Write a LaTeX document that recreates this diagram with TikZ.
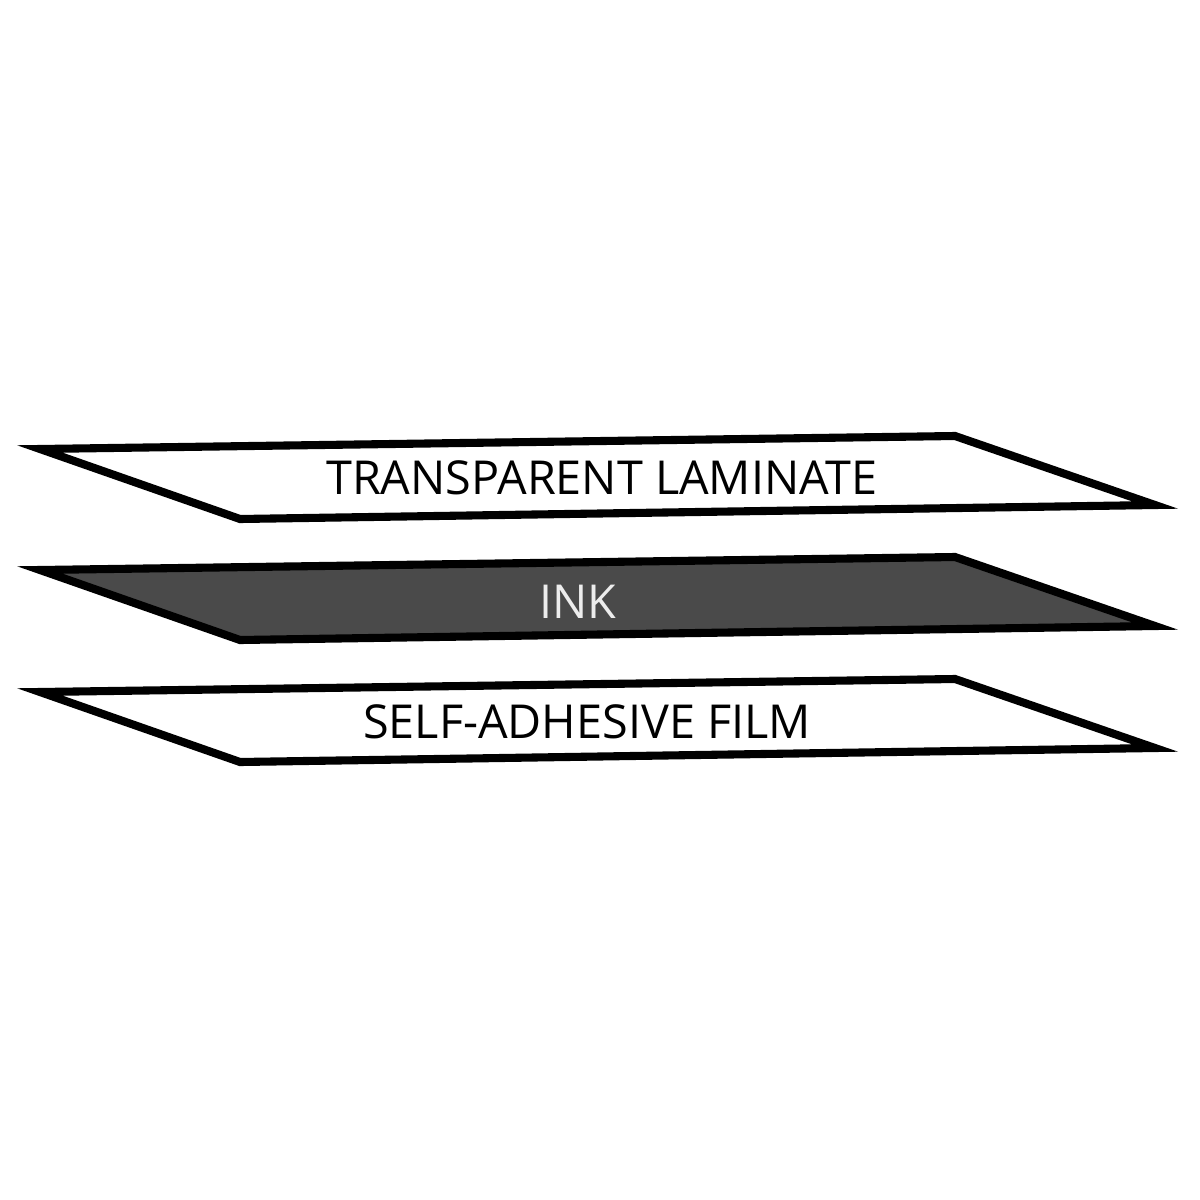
\documentclass[tikz,border=0pt]{standalone}
\usepackage{fontspec}
\setmainfont{Open Sans}
\definecolor{inkgray}{HTML}{4A4A4A}
\tikzset{
  layer/.style={line width=2.3pt,line join=miter,draw=black},
  label/.style={font=\fontsize{13.3}{14}\selectfont,inner sep=0pt},
}
\begin{document}
\begin{tikzpicture}[x=0.01cm,y=-0.01cm]
\useasboundingbox[fill=white] (0,0) rectangle (1200,1200);
% the three layers, top to bottom
\draw[layer,fill=white] (40,449) -- (955,436) -- (1155,505) -- (240,519) -- cycle;
\draw[layer,fill=inkgray] (40,570) -- (955,557) -- (1155,626) -- (240,640) -- cycle;
\draw[layer,fill=white] (40,692) -- (955,679) -- (1155,748) -- (240,762) -- cycle;
% labels
\node[label] (laminate) at (602,478) {TRANSPARENT LAMINATE};
\node[label,text=white!93!black] (ink) at (578,602) {INK};
\node[label] (film) at (587,722) {SELF-ADHESIVE FILM};
\end{tikzpicture}
\end{document}
